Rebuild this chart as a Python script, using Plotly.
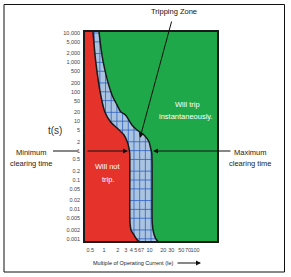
import numpy as np
import plotly.graph_objects as go

# ---------------- data ----------------
y_tick_vals = [10000, 5000, 2000, 1000, 500, 200, 100, 50, 20, 10, 5, 2, 1,
               0.5, 0.2, 0.1, 0.05, 0.02, 0.01, 0.005, 0.002, 0.001]
y_tick_text = ["10,000", "5,000", "2,000", "1,000", "500", "200", "100", "50", "20", "10", "5", "2", "1",
               "0.5", "0.2", "0.1", "0.05", "0.02", "0.01", "0.005", "0.002", "0.001"]
x_tick_vals = [0.5, 1, 2, 3, 4, 5, 6, 7, 10, 20, 30, 50, 70, 100]
x_tick_text = ["0.5", "1", "2", "3", "4", "5", "6", "7", "10", "20", "30", "50", "70", "100"]

# minimum clearing-time curve (multiple of current, seconds)
min_curve_x = [0.573, 0.657, 0.846, 1.04, 1.40, 1.93, 2.75, 3.25, 3.54, 3.67, 3.73, 3.92, 4.56, 5.18, 5.88]
min_curve_t = [11000, 1100, 78, 21, 9.4, 5.9, 3.4, 2.0, 1.2, 0.83, 0.0034, 0.002, 0.00135, 0.00098, 0.0008]
# maximum clearing-time curve
max_curve_x = [0.776, 0.951, 1.50, 1.93, 2.33, 3.00, 4.12, 5.31, 7.57, 9.75, 10.6, 11.2, 11.5, 12.2, 13.5, 15.4]
max_curve_t = [11000, 1100, 78, 36, 21, 16, 7.4, 5.0, 3.4, 2.0, 1.2, 0.83, 0.0034, 0.0017, 0.00106, 0.0008]

# hatch grid inside the tripping zone
grid_x = [0.61, 0.81, 1.08, 1.44, 1.92, 2.56, 3.42, 4.56, 6.08, 8.11, 10.8, 14.4]
grid_t = y_tick_vals

# ---------------- style ----------------
RED = "#e5322a"
GREEN = "#1fa84a"
BLUE = "#aac3df"
GRIDBLUE = "#2f62c0"
DARK = "#1a1a1a"
FONT = "Liberation Sans Narrow, Arial Narrow, Liberation Sans, sans-serif"

X_RANGE = [-0.4176, 2.4835]
Y_RANGE = [-3.075, 4.034]
L, R, T, B = 85, 217, 32, 241
X_EDGE = 0.3           # outside the visible range, left
T_TOP, T_BOT = 11000, 0.0008


def px(xp):
    return (xp - L) / (R - L)


def py(yp):
    return (B - yp) / (B - T)


fig = go.Figure()

# tripping zone (everything left of max curve) then red (left of min curve)
fig.add_trace(go.Scatter(x=max_curve_x + [X_EDGE, X_EDGE], y=max_curve_t + [T_BOT, T_TOP],
                         fill="toself", fillcolor=BLUE, mode="lines", line=dict(width=0),
                         hoverinfo="skip"))

# grid segments clipped between the two curves
lminx, lmint = np.log10(min_curve_x), np.log10(min_curve_t)
lmaxx, lmaxt = np.log10(max_curve_x), np.log10(max_curve_t)
gx, gy = [], []
for t in grid_t:
    lt = np.log10(t)
    a = np.interp(lt, lmint[::-1], lminx[::-1])
    b = np.interp(lt, lmaxt[::-1], lmaxx[::-1])
    gx += [10 ** a, 10 ** b, None]
    gy += [t, t, None]
for x in grid_x:
    lx = np.log10(x)
    lo = np.interp(lx, lminx, lmint, left=np.inf, right=-np.inf)
    hi = np.interp(lx, lmaxx, lmaxt, left=np.inf, right=-np.inf)
    lo = max(lo, np.log10(T_BOT))
    hi = min(hi, np.log10(T_TOP))
    if hi > lo:
        gx += [x, x, None]
        gy += [10 ** lo, 10 ** hi, None]
fig.add_trace(go.Scatter(x=gx, y=gy, mode="lines", line=dict(color=GRIDBLUE, width=0.8),
                         hoverinfo="skip"))

fig.add_trace(go.Scatter(x=min_curve_x + [X_EDGE, X_EDGE], y=min_curve_t + [T_BOT, T_TOP],
                         fill="toself", fillcolor=RED, mode="lines", line=dict(width=0),
                         hoverinfo="skip"))

# boundary curves
for cx, ct in ((min_curve_x, min_curve_t), (max_curve_x, max_curve_t)):
    fig.add_trace(go.Scatter(x=cx, y=ct, mode="lines",
                             line=dict(color=DARK, width=1.5, shape="spline", smoothing=0.8),
                             hoverinfo="skip"))

ann = []


def text(s, x, y, size=8, color="#222", anchor="center"):
    ann.append(dict(text=s, x=px(x), y=py(y), xref="paper", yref="paper", showarrow=False,
                    xanchor=anchor, yanchor="middle", font=dict(size=size, color=color, family=FONT)))


def arrow(hx, hy, tx, ty):
    ann.append(dict(text="", x=px(hx), y=py(hy), xref="paper", yref="paper", showarrow=True,
                    ax=tx - hx, ay=ty - hy, arrowhead=2, arrowsize=1, arrowwidth=1,
                    arrowcolor="#111"))


text("Tripping Zone", 174, 12, 7.5, "#111")
text("t(s)", 55, 130, 10, "#333")
text("Minimum", 31, 152, 7.5, "#222")
text("clearing time", 31, 163, 7.5, "#222")
text("Maximum", 250, 152, 7.5, "#222")
text("clearing time", 250, 163, 7.5, "#222")
text("Will trip", 187, 104, 7.5, "white")
text("instantaneously.", 186, 116, 7.5, "white")
text("Will not", 108, 167, 7.5, "white")
text("trip.", 108, 180, 7.5, "white")
text("Multiple of Operating Current (Ie)", 133, 263, 5.5, "#222")

arrow(140, 138, 172, 20)
arrow(128, 151, 86, 151)
arrow(153, 151, 232, 151)
arrow(201, 263, 176, 263)

shapes = [
    dict(type="line", xref="paper", yref="paper", x0=px(53), x1=px(78), y0=py(151), y1=py(151),
         line=dict(color="#111", width=1)),
    dict(type="rect", xref="paper", yref="paper", x0=px(4), x1=px(284.5), y0=py(272), y1=py(4.5),
         line=dict(color="#111", width=1)),
]

fig.update_layout(
    width=291, height=277,
    margin=dict(l=L, r=291 - R, t=T, b=277 - B),
    paper_bgcolor="white", plot_bgcolor=GREEN,
    showlegend=False,
    annotations=ann, shapes=shapes,
    xaxis=dict(type="log", range=X_RANGE, tickvals=x_tick_vals, ticktext=x_tick_text,
               tickangle=0,
               showgrid=False, zeroline=False, ticks="", showline=True, mirror=True,
               linecolor=DARK, linewidth=1.5, tickfont=dict(size=5.5, color="#444", family=FONT),
               ticklabelstandoff=3),
    yaxis=dict(type="log", range=Y_RANGE, tickvals=y_tick_vals, ticktext=y_tick_text,
               showgrid=False, zeroline=False, ticks="", showline=True, mirror=True,
               linecolor=DARK, linewidth=1.5, tickfont=dict(size=5.5, color="#444", family=FONT),
               ticklabelstandoff=2),
)

fig.write_html("out.html")
